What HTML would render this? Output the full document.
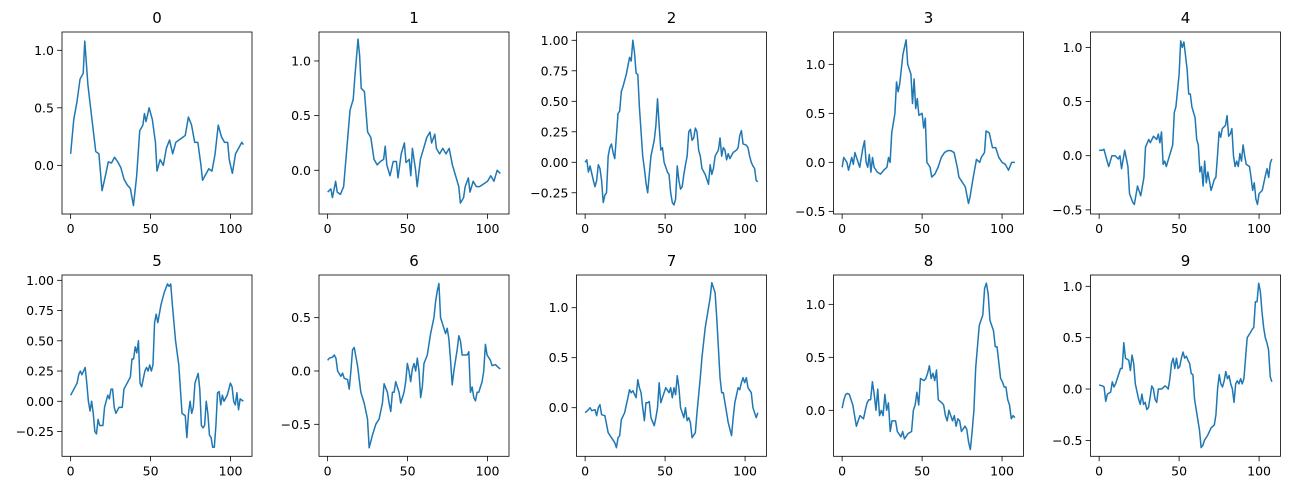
<!DOCTYPE html>
<html><head><meta charset="utf-8">
<style>
html,body{margin:0;padding:0;background:#fff;}
svg text{font-family:"DejaVu Sans","Liberation Sans",sans-serif;fill:#000;}
</style></head>
<body>
<svg id="s" width="1289" height="490" xmlns="http://www.w3.org/2000/svg"></svg>
<script>
const P=[
{L:62,T:32,B:214,y0:-0.423,y1:1.159,ticks:[0,0.5,1.0],f:1,d:[[0,0.1],[2,0.4],[4,0.55],[6,0.75],[8,0.8],[9,1.08],[11,0.7],[14,0.35],[16,0.12],[18,0.1],[20,-0.22],[22,-0.1],[24,0.03],[26,0.02],[28,0.07],[30,0.03],[32,-0.02],[34,-0.12],[36,-0.17],[38,-0.2],[40,-0.35],[42,-0.1],[44,0.3],[46,0.35],[47,0.45],[48,0.38],[50,0.5],[52,0.4],[54,0.2],[55,-0.05],[57,0.05],[59,0.0],[61,0.15],[63,0.22],[65,0.1],[67,0.2],[69,0.22],[71,0.24],[73,0.26],[75,0.42],[77,0.35],[79,0.2],[81,0.2],[83,0.0],[84,-0.13],[86,-0.08],[88,-0.03],[90,-0.05],[92,0.1],[94,0.35],[96,0.25],[98,0.2],[100,0.2],[101,0.05],[103,-0.07],[105,0.1],[107,0.15],[109,0.2],[110,0.18]]},
{L:319,T:32,B:214,y0:-0.40,y1:1.265,ticks:[0,0.5,1.0],f:1,d:[[0,-0.2],[2,-0.17],[3,-0.25],[5,-0.1],[6,-0.2],[8,-0.22],[10,-0.15],[12,0.2],[14,0.55],[16,0.65],[17,0.85],[19,1.2],[20,1.05],[21,0.75],[23,0.72],[25,0.35],[27,0.3],[29,0.1],[31,0.05],[33,0.08],[35,0.1],[36,0.22],[37,0.05],[39,-0.05],[41,0.08],[43,0.08],[44,-0.07],[46,0.15],[48,0.25],[49,0.07],[51,0.1],[52,-0.05],[53,0.2],[55,0.0],[56,-0.15],[58,0.1],[60,0.2],[62,0.3],[64,0.35],[65,0.25],[67,0.33],[68,0.2],[70,0.15],[72,0.2],[74,0.15],[76,0.2],[78,0.05],[80,-0.05],[82,-0.15],[83,-0.3],[85,-0.25],[86,-0.15],[88,-0.07],[89,-0.2],[91,-0.1],[93,-0.15],[95,-0.15],[97,-0.13],[100,-0.1],[102,-0.05],[104,-0.1],[106,0.0],[108,-0.03]]},
{L:576.5,T:32,B:214,y0:-0.424,y1:1.068,ticks:[-0.25,0,0.25,0.5,0.75,1.0],f:2,d:[[0,0],[1,0.02],[2,-0.08],[3,-0.03],[5,-0.15],[6,-0.2],[7,-0.15],[8,-0.02],[9,-0.05],[10,-0.15],[11,-0.33],[12,-0.27],[13,-0.25],[14,0.05],[15,0.12],[16,0.15],[17,0.08],[18,0.03],[20,0.4],[21,0.42],[22,0.58],[23,0.62],[25,0.72],[27,0.86],[28,0.83],[29,1.0],[30,0.9],[31,0.73],[32,0.72],[33,0.45],[34,0.25],[35,0.05],[36,-0.05],[37,-0.17],[38,-0.25],[39,-0.1],[40,0.05],[42,0.18],[43,0.3],[44,0.52],[45,0.3],[46,0.1],[47,0.12],[48,0.0],[50,-0.08],[51,-0.1],[52,-0.25],[53,-0.33],[54,-0.35],[55,-0.3],[56,-0.03],[57,-0.15],[58,-0.22],[59,-0.2],[60,-0.1],[61,-0.02],[62,0.05],[63,0.25],[64,0.27],[65,0.18],[66,0.2],[67,0.28],[68,0.25],[69,0.1],[70,0.05],[71,-0.05],[73,-0.1],[75,-0.18],[76,-0.02],[77,-0.1],[78,-0.05],[79,0.05],[81,0.1],[82,0.2],[83,0.05],[84,0.12],[85,0.1],[86,0.02],[87,0.07],[88,0.03],[90,0.08],[92,0.1],[93,0.12],[94,0.22],[95,0.26],[96,0.15],[98,0.14],[99,0.12],[100,0.05],[101,0.0],[102,-0.03],[103,-0.05],[104,-0.15],[105,-0.16]]},
{L:833.5,T:32,B:214,y0:-0.527,y1:1.33,ticks:[-0.5,0,0.5,1.0],f:1,d:[[0,-0.05],[1,0.05],[3,0.0],[4,-0.08],[6,0.05],[7,-0.02],[8,0.1],[10,0.0],[11,-0.05],[13,0.15],[14,0.22],[15,0.0],[16,-0.05],[17,0.08],[18,-0.1],[19,0.05],[20,-0.05],[22,-0.1],[24,-0.12],[26,-0.08],[28,-0.05],[29,0.05],[30,0.0],[31,0.3],[33,0.5],[34,0.82],[35,0.72],[36,0.8],[38,1.1],[40,1.25],[41,1.0],[43,0.9],[44,0.6],[45,0.85],[46,0.55],[47,0.65],[48,0.48],[50,0.5],[51,0.35],[52,0.45],[53,0.0],[55,-0.05],[56,-0.15],[58,-0.12],[60,-0.05],[62,0.05],[64,0.1],[66,0.12],[68,0.12],[70,0.1],[72,-0.05],[73,-0.15],[75,-0.2],[77,-0.25],[79,-0.42],[80,-0.35],[82,-0.15],[84,0.03],[86,0.0],[87,0.05],[89,0.1],[90,0.32],[92,0.3],[94,0.15],[96,0.15],[98,0.05],[100,0.0],[102,-0.02],[104,-0.08],[106,0.0],[108,0.0]]},
{L:1090.5,T:32,B:214,y0:-0.538,y1:1.142,ticks:[-0.5,0,0.5,1.0],f:1,d:[[0,0.05],[2,0.05],[3,0.06],[5,-0.05],[6,-0.1],[8,0.0],[10,0.0],[12,-0.03],[13,0.0],[14,-0.12],[16,0.05],[18,-0.1],[19,-0.35],[21,-0.43],[22,-0.45],[24,-0.28],[26,-0.37],[28,-0.2],[29,0.08],[31,0.15],[32,0.12],[34,0.18],[36,0.15],[37,0.2],[38,0.12],[39,0.22],[40,-0.08],[41,-0.05],[42,-0.1],[44,0.0],[46,0.1],[47,0.4],[48,0.45],[50,0.75],[51,1.06],[52,1.0],[53,1.05],[55,0.8],[56,0.57],[57,0.57],[58,0.45],[60,0.35],[61,0.15],[62,0.1],[63,-0.15],[64,-0.1],[65,-0.28],[66,-0.05],[67,-0.25],[68,-0.15],[70,-0.32],[72,-0.22],[73,-0.2],[74,0.0],[75,0.22],[76,0.17],[77,0.25],[79,0.28],[80,0.37],[81,0.18],[82,0.2],[83,0.25],[84,0.0],[85,-0.1],[86,-0.05],[87,-0.1],[88,0.02],[89,-0.05],[90,0.1],[91,0.0],[92,-0.08],[94,-0.1],[95,-0.2],[96,-0.32],[97,-0.25],[98,-0.4],[99,-0.45],[100,-0.35],[102,-0.32],[104,-0.18],[105,-0.12],[106,-0.2],[107,-0.07],[108,-0.03]]},
{L:62,T:275,B:456.3,y0:-0.455,y1:1.044,ticks:[-0.25,0,0.25,0.5,0.75,1.0],f:2,d:[[0,0.05],[2,0.1],[4,0.15],[5,0.22],[6,0.25],[7,0.22],[8,0.25],[9,0.28],[10,0.15],[11,0.0],[12,-0.08],[13,0.0],[14,-0.1],[15,-0.25],[16,-0.27],[17,-0.15],[18,-0.2],[20,-0.2],[21,-0.05],[23,0.05],[24,0.02],[25,0.1],[26,0.1],[27,-0.05],[28,-0.1],[30,-0.05],[32,-0.05],[33,0.1],[35,0.15],[37,0.2],[38,0.35],[39,0.35],[40,0.45],[41,0.4],[42,0.5],[43,0.15],[44,0.12],[46,0.25],[47,0.28],[48,0.25],[49,0.3],[50,0.25],[51,0.3],[52,0.65],[53,0.72],[54,0.65],[56,0.8],[57,0.85],[58,0.9],[60,0.97],[61,0.95],[62,0.97],[63,0.8],[65,0.5],[67,0.3],[68,0.1],[69,-0.1],[71,-0.12],[72,-0.3],[73,-0.1],[74,0.0],[75,-0.1],[76,-0.05],[77,0.15],[79,0.23],[80,0.1],[81,-0.2],[82,-0.22],[83,-0.2],[84,0.0],[85,-0.1],[86,-0.28],[87,-0.3],[88,-0.38],[89,-0.38],[90,-0.2],[91,0.07],[92,0.08],[93,-0.03],[94,0.05],[95,0.0],[97,0.05],[99,0.15],[100,0.12],[101,0.0],[102,-0.03],[103,0.07],[104,-0.07],[105,0.02],[107,0.0]]},
{L:319,T:275,B:456.3,y0:-0.80,y1:0.90,ticks:[-0.5,0,0.5],f:1,d:[[0,0.1],[1,0.12],[3,0.13],[4,0.15],[5,0.12],[6,0.0],[8,-0.05],[9,-0.02],[10,-0.07],[12,-0.08],[13,-0.17],[14,0.0],[15,0.2],[16,0.22],[18,0.05],[20,-0.2],[22,-0.3],[24,-0.45],[25,-0.72],[27,-0.6],[29,-0.5],[31,-0.45],[33,-0.3],[34,-0.12],[36,-0.2],[37,-0.3],[38,-0.38],[39,-0.2],[40,-0.2],[41,-0.1],[43,-0.2],[44,-0.3],[46,-0.2],[47,-0.1],[48,0.07],[49,0.0],[50,-0.1],[51,0.02],[52,0.07],[53,0.0],[54,0.12],[55,0.0],[56,-0.25],[57,-0.15],[58,0.07],[60,0.15],[62,0.35],[64,0.5],[65,0.65],[66,0.75],[67,0.82],[68,0.5],[70,0.4],[71,0.35],[72,0.4],[73,0.3],[74,0.1],[75,-0.13],[76,0.0],[77,0.1],[78,0.2],[79,0.33],[80,0.28],[81,0.15],[82,0.15],[84,0.15],[85,0.18],[86,-0.2],[87,-0.15],[88,-0.25],[89,-0.28],[90,-0.2],[91,-0.2],[93,-0.1],[94,0.0],[95,0.25],[96,0.15],[98,0.1],[99,0.05],[101,0.06],[103,0.03],[104,0.02]]},
{L:576.5,T:275,B:456.3,y0:-0.486,y1:1.327,ticks:[0,0.5,1.0],f:1,d:[[0,-0.05],[2,-0.02],[3,0.0],[4,-0.03],[6,-0.02],[7,-0.08],[8,0.0],[9,0.03],[10,-0.07],[12,-0.08],[14,-0.25],[16,-0.3],[18,-0.35],[19,-0.4],[20,-0.3],[21,-0.28],[22,-0.12],[24,-0.05],[26,0.1],[27,0.18],[28,0.15],[29,0.17],[31,0.1],[32,0.28],[33,0.2],[34,0.15],[35,0.0],[36,-0.13],[37,0.05],[38,0.05],[39,0.06],[40,-0.1],[42,-0.18],[43,-0.1],[44,0.0],[45,0.25],[46,0.05],[47,0.1],[49,0.2],[51,0.15],[52,0.2],[53,0.1],[54,0.2],[55,0.13],[56,0.32],[57,0.2],[58,0.0],[60,-0.1],[61,0.0],[62,-0.13],[63,-0.1],[64,-0.15],[65,-0.3],[67,-0.25],[68,-0.05],[70,0.3],[71,0.5],[73,0.8],[75,1.0],[76,1.1],[77,1.25],[78,1.2],[79,1.15],[80,0.9],[81,0.6],[82,0.3],[83,0.15],[84,0.15],[85,0.05],[87,-0.15],[89,-0.28],[90,-0.1],[91,0.05],[93,0.2],[94,0.18],[95,0.25],[96,0.3],[97,0.25],[98,0.3],[99,0.2],[101,0.15],[102,0.0],[103,-0.05],[104,-0.1],[105,-0.05]]},
{L:833.5,T:275,B:456.3,y0:-0.434,y1:1.277,ticks:[0,0.5,1.0],f:1,d:[[0,0.02],[1,0.1],[2,0.15],[3,0.16],[4,0.15],[6,0.05],[7,-0.05],[8,-0.15],[9,-0.1],[10,-0.05],[12,-0.08],[13,0.0],[14,0.07],[15,0.1],[16,0.1],[17,0.27],[18,0.15],[19,0.0],[20,0.2],[21,-0.05],[22,0.0],[23,-0.05],[24,0.15],[25,0.0],[26,0.07],[27,-0.2],[28,-0.1],[30,-0.1],[31,-0.2],[33,-0.25],[34,-0.2],[35,-0.27],[37,-0.22],[39,-0.2],[40,0.0],[41,0.05],[42,0.17],[43,0.05],[44,0.3],[46,0.28],[47,0.3],[48,0.35],[49,0.42],[50,0.3],[51,0.35],[52,0.28],[53,0.38],[54,0.1],[56,0.07],[57,0.05],[58,-0.05],[59,-0.1],[60,0.0],[61,-0.05],[62,-0.1],[63,-0.05],[64,-0.15],[65,-0.08],[66,-0.1],[67,-0.2],[69,-0.15],[70,-0.18],[71,-0.3],[72,-0.37],[73,-0.2],[74,0.0],[75,0.4],[76,0.6],[77,0.8],[79,0.9],[80,1.15],[81,1.2],[82,1.1],[83,0.85],[84,0.8],[85,0.75],[86,0.6],[87,0.6],[88,0.45],[89,0.3],[90,0.27],[91,0.22],[92,0.22],[93,0.1],[94,0.05],[95,-0.08],[96,-0.05],[97,-0.07]]},
{L:1090.5,T:275,B:456.3,y0:-0.655,y1:1.11,ticks:[-0.5,0,0.5,1.0],f:1,d:[[0,0.04],[2,0.03],[3,0.02],[4,-0.12],[5,-0.05],[7,-0.03],[8,0.07],[9,0.02],[10,0.05],[12,0.15],[13,0.2],[14,0.2],[15,0.45],[16,0.3],[18,0.28],[19,0.18],[20,0.33],[21,0.25],[22,0.05],[24,-0.1],[25,-0.15],[26,-0.05],[27,-0.15],[28,-0.13],[29,-0.2],[30,-0.18],[31,-0.08],[32,0.03],[33,0.0],[34,-0.1],[35,-0.13],[36,0.0],[38,0.0],[40,0.03],[41,0.02],[42,0.0],[43,0.1],[44,0.25],[45,0.3],[46,0.2],[47,0.3],[48,0.2],[49,0.22],[50,0.3],[51,0.36],[52,0.3],[53,0.32],[54,0.28],[55,0.25],[56,0.15],[57,0.14],[58,-0.1],[60,-0.3],[61,-0.4],[62,-0.57],[63,-0.55],[64,-0.5],[66,-0.45],[68,-0.38],[70,-0.35],[71,-0.25],[72,0.0],[73,0.14],[74,0.05],[75,0.02],[76,0.08],[77,0.17],[78,0.1],[79,0.13],[80,0.05],[81,0.0],[82,-0.13],[83,0.05],[84,0.08],[85,0.05],[86,0.1],[87,0.05],[88,0.1],[89,0.3],[90,0.5],[92,0.55],[93,0.58],[94,0.6],[95,0.85],[96,0.85],[97,1.03],[98,0.95],[99,0.75],[100,0.6],[101,0.5],[102,0.45],[103,0.38],[104,0.12],[105,0.07]]}
];
let h='';
const W=190,X0=-5.4,X1=113.4;
P.forEach((p,i)=>{
  const sx=v=>p.L+(v-X0)/(X1-X0)*W;
  const sy=v=>p.B-(v-p.y0)/(p.y1-p.y0)*(p.B-p.T);
  const last=p.d[p.d.length-1][0];
  const pts=p.d.map(q=>sx(q[0]*108/last).toFixed(2)+','+sy(q[1]).toFixed(2)).join(' ');
  h+=`<polyline points="${pts}" fill="none" stroke="#1f77b4" stroke-width="1.5" stroke-linejoin="round"/>`;
  h+=`<rect x="${p.L}" y="${p.T}" width="${W}" height="${p.B-p.T}" fill="none" stroke="#000" stroke-width="0.8"/>`;
  [0,50,100].forEach(t=>{const x=sx(t);
    h+=`<line x1="${x}" y1="${p.B}" x2="${x}" y2="${p.B+4.9}" stroke="#000" stroke-width="0.8"/>`;
    h+=`<text x="${x}" y="${p.B+19}" font-size="12.5" text-anchor="middle">${t}</text>`;});
  p.ticks.forEach(t=>{const y=sy(t);
    h+=`<line x1="${p.L-4.9}" y1="${y}" x2="${p.L}" y2="${y}" stroke="#000" stroke-width="0.8"/>`;
    let s=t.toFixed(p.f).replace('-','\u2212');
    h+=`<text x="${p.L-8}" y="${y+4.5}" font-size="12.5" text-anchor="end">${s}</text>`;});
  h+=`<text x="${p.L+W/2}" y="${p.T-9}" font-size="15" text-anchor="middle">${i}</text>`;
});
document.getElementById('s').innerHTML=h;
</script>
</body></html>
